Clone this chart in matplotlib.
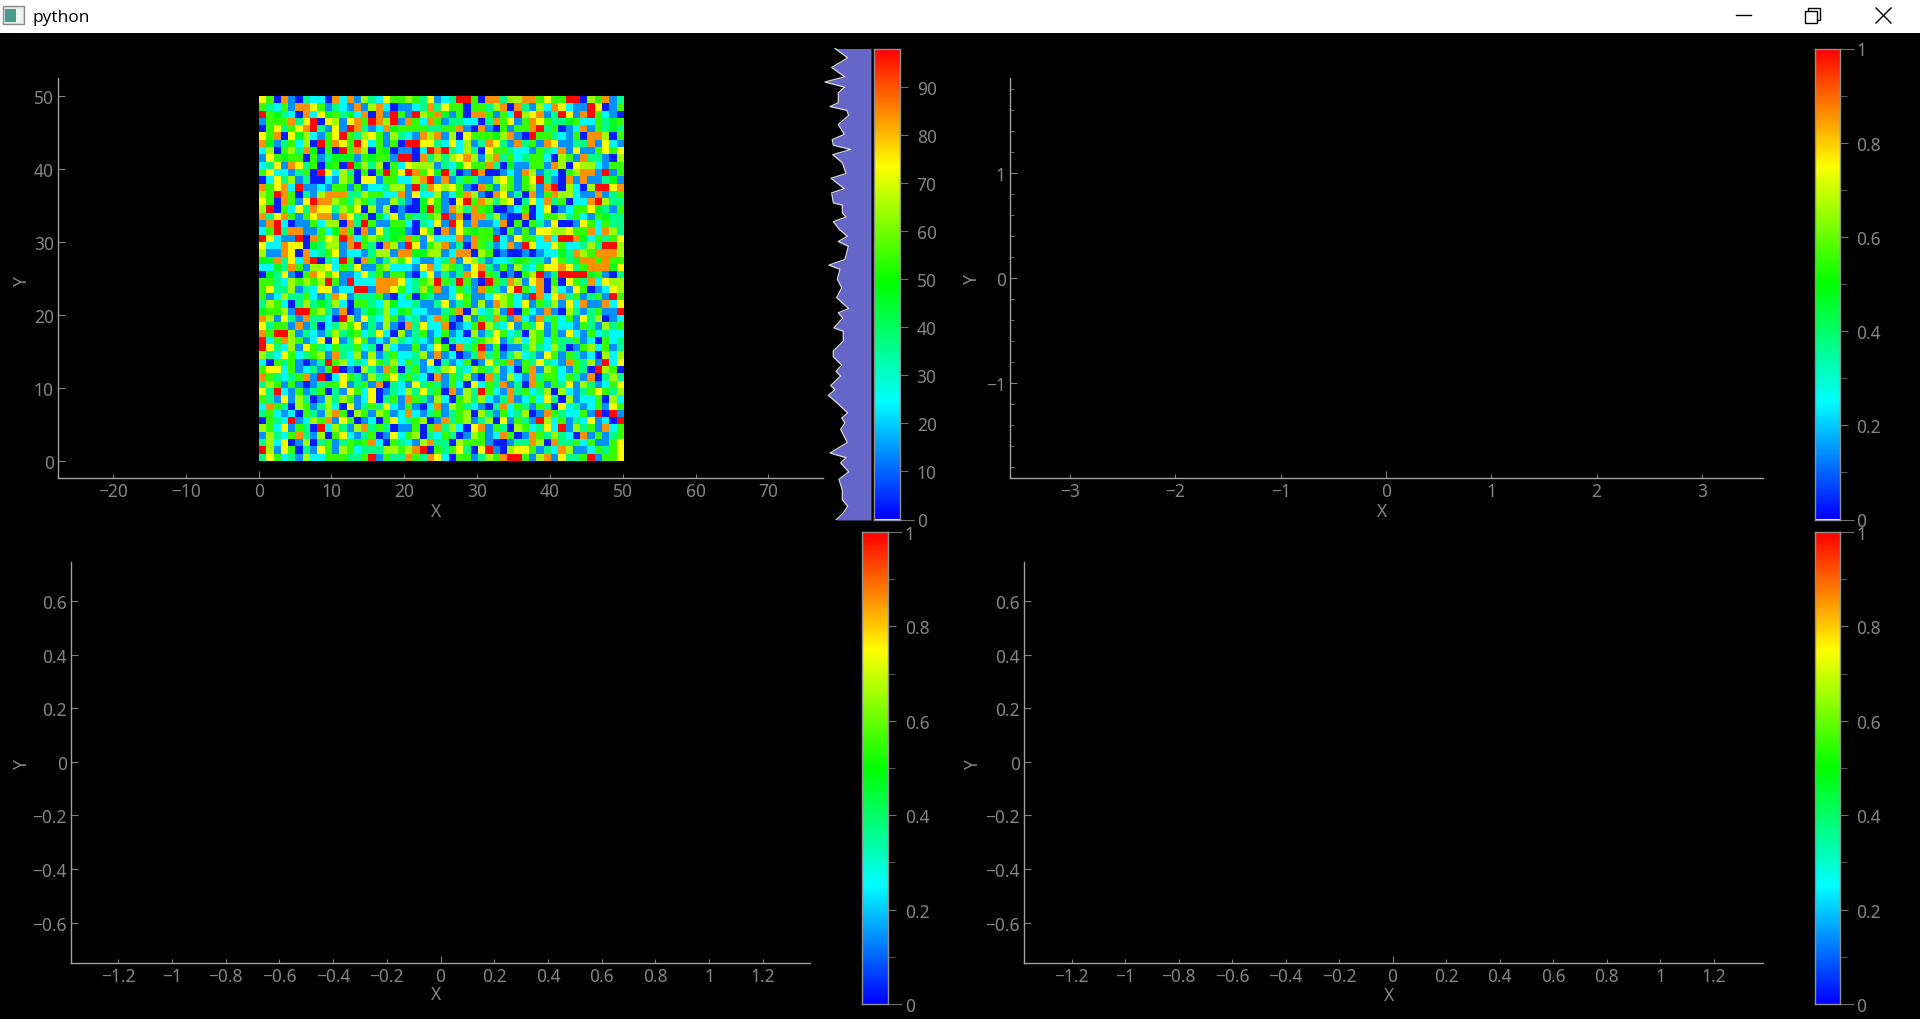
import numpy as np
import matplotlib
matplotlib.use("Agg")
import matplotlib.pyplot as plt
from matplotlib.colors import LinearSegmentedColormap
from matplotlib.patches import Rectangle

W, H = 1920, 1020

# colour levels (digit in a row -> value on the colour bar)
level_values = [3, 14, 24, 36, 46, 54, 64, 73, 84, 97]

# 50 x 50 cells, top row first
heat_rows = [
    "7508103220 8281632755 6537123995 0883668857 5599065813",
    "5325188751 3218168201 1238375505 5368083162 8721197015",
    "9543208274 5342808195 1965841508 8515296781 3971895210",
    "1555837907 6178598691 8528513322 0385715875 3345225345",
    "0573578931 7198312845 5553355810 8105155893 5012815343",
    "7580746215 7953675163 2186816075 5546810955 3215088605",
    "8413526095 8759725150 9977327261 3873183518 7113381721",
    "2605638405 0958605401 1029893263 0755322153 2817115757",
    "1754550513 4441545519 9083636786 1683523552 0651833106",
    "2371873504 5094636052 7666132475 5830411551 8607662155",
    "5722135097 2630505957 9857493019 8001218613 2056881915",
    "0273613002 1650771552 2689181353 1167515793 1081811341",
    "8578291121 5515122366 1938767510 8516515618 9062069978",
    "6598503168 8833655228 1722612586 1087130815 8662118135",
    "7508517988 6536531163 1047510795 8636703728 3502289633",
    "6905273877 3657061601 0049518638 5400125027 0125574315",
    "8378515788 1873504271 5335691808 8361008025 5635215433",
    "1892011526 6083951155 2032719718 1128050531 7001752533",
    "2593881152 4850817344 1075081754 5510515177 6675582863",
    "9721190857 6982565345 8517222818 5592175528 2998425357",
    "7228770436 6189530861 9715681308 5312819722 7522363996",
    "6118708235 7122136618 8446612880 6501001012 2438658886",
    "4483728903 2950851365 7211238176 3122345331 7534885855",
    "2243851667 2537115622 2178265317 8315163257 7873588847",
    "0437105875 7112735155 1027131387 9530105691 3999945103",
    "5532656569 5192228887 2356953951 0953861780 5075382766",
    "5733613277 1229918875 2364812531 8531795280 6217501276",
    "5126335213 8713335102 5043112751 1276521982 7835135195",
    "3652036343 6205532642 2311371351 6186527153 6172811827",
    "4556199563 1801343624 5221135806 2361905218 1063135119",
    "8617318332 0961732651 2312851061 5385182183 5251736012",
    "7355181302 3657131610 8372280125 9632715371 5221531635",
    "8599613213 6345237206 1351251206 1375230651 5172152322",
    "9258651270 7137512163 2321503223 5671362652 5335120523",
    "9732617532 5335230621 1512750835 9150113632 6301562513",
    "6327523561 8326161352 2361812013 8351362317 5153120626",
    "2053510139 5623275362 5317031250 1735815373 2185361927",
    "5772512315 9010631850 3512367326 5361205816 5215309650",
    "8532358190 2753163573 5320815361 0831621835 5253180363",
    "3651510135 5713518032 1735315207 2538130851 5371631257",
    "7392151350 3175270132 6373508163 9521835236 0621357536",
    "5317163016 3651270351 8531620563 6213812527 3061225062",
    "2853065136 2071353721 5102816532 1038253153 0723125175",
    "3521205316 8506516512 8213513560 6315236018 5322519091",
    "0532912658 1750120572 3560183561 3607153196 2513271209",
    "6527153092 6316835301 1505836207 8153065237 2916351825",
    "1632583160 5721350172 5603253016 5128501853 6320815135",
    "3627016035 1354582053 2168330655 5100133860 8335251157",
    "9617503175 1652333665 6890535730 7910677513 2861125357",
    "3752316225 5533591533 8538720551 3658995168 1733591557",
]

# left outline of the side profile: position along the colour bar / width
profile_pos = [49.95, 48.96, 47.93, 46.95, 46.4, 45.85, 45.25, 44.2, 43.8, 43.4, 42.85, 41.9,
               40.85, 40.3, 39.7, 39.25, 38.7, 37.85, 36.7, 36.2, 35.1, 34.65, 33.6, 33.35,
               32.55, 32.1, 31.6, 30.8, 30.05, 29.5, 29.0, 27.6, 27.0, 26.55, 25.5, 24.6,
               23.55, 22.4, 21.95, 21.4, 20.35, 20.0, 18.95, 17.9, 17.3, 16.4, 15.75, 15.25,
               14.25, 13.8, 13.2, 12.6, 11.35, 10.8, 10.3, 9.6, 8.2, 7.1, 6.6, 6.05,
               5.1, 4.3, 3.2, 2.15, 1.45, 0.75, 0.0]
profile_width = [36, 23.3, 39.3, 26.3, 46, 26.3, 32.7, 32.7, 41, 24.3, 22.3, 32.7,
                 26.7, 38.7, 37.7, 20.3, 38.3, 28.7, 25, 40, 26.7, 39.3, 37.7, 28.7,
                 28.7, 25, 37.7, 31.7, 23.7, 32.7, 22.7, 26, 42, 31, 33.7, 29.3,
                 34.3, 22.3, 32.7, 28.3, 37, 27.7, 27.7, 37.7, 37.7, 29.3, 35, 30.3,
                 40.3, 36, 42.7, 36, 23.3, 29.3, 26, 30.3, 23.7, 41, 25, 30.3,
                 22.3, 32, 28.7, 28.7, 23.3, 27.7, 35]

p1_xticks = [-20, -10, 0, 10, 20, 30, 40, 50, 60, 70]
p1_yticks = [0, 10, 20, 30, 40, 50]
p2_xticks = [-3, -2, -1, 0, 1, 2, 3]
p2_yticks = [-1, 0, 1]
small_ticks = [-1.2, -1, -0.8, -0.6, -0.4, -0.2, 0, 0.2, 0.4, 0.6, 0.8, 1, 1.2]
small_yticks = [-0.6, -0.4, -0.2, 0, 0.2, 0.4, 0.6]
bar_big_ticks = [0, 10, 20, 30, 40, 50, 60, 70, 80, 90]
bar_ticks = [0, 0.2, 0.4, 0.6, 0.8, 1]
bar_minor = [0.1, 0.3, 0.5, 0.7, 0.9]

plt.rcParams["font.family"] = ["Noto Sans", "DejaVu Sans"]

LINE = "#a0a0a0"
TXT = "#858585"
cmap = LinearSegmentedColormap.from_list(
    "rainbow5", ["#0000ff", "#00ffff", "#00ff00", "#ffff00", "#ff0000"])

fig = plt.figure(figsize=(W / 100, H / 100), dpi=100, facecolor="black")


def ax_px(left, top, right, bottom):
    return fig.add_axes([left / W, 1 - bottom / H, (right - left) / W, (bottom - top) / H])


def fmt(v):
    s = f"{v:g}"
    return s.replace("-", "\u2212")


def make_panel(box, xlim, ylim, xticks, yticks, xlab, ylab, yminor=None):
    ax = ax_px(*box)
    ax.set_facecolor("black")
    ax.set_xlim(xlim)
    ax.set_ylim(ylim)
    for name in ["top", "right"]:
        ax.spines[name].set_visible(False)
    for name in ["left", "bottom"]:
        ax.spines[name].set_color(LINE)
        ax.spines[name].set_linewidth(1.0)
    ax.set_xticks(xticks, [fmt(v) for v in xticks])
    ax.set_yticks(yticks, [fmt(v) for v in yticks])
    ax.tick_params(direction="in", length=3, width=0.8, color="#808080",
                   labelcolor=TXT, labelsize=12.5, pad=3)
    ax.tick_params(axis="y", length=5, pad=3)
    if yminor is not None:
        ax.set_yticks(yminor, minor=True)
        ax.tick_params(axis="y", which="minor", direction="in", length=3, width=0.8, color="#606060")
    # the zero tick of the x axis is drawn longer
    for tick, v in zip(ax.xaxis.get_major_ticks(), xticks):
        if v == 0:
            tick.tick1line.set_markersize(5)
    fig.text(xlab[0] / W, 1 - xlab[1] / H, "X", color=TXT, fontsize=12.5, ha="center", va="center")
    fig.text(ylab[0] / W, 1 - ylab[1] / H, "Y", color=TXT, fontsize=12.5, ha="center", va="center",
             rotation=90)
    return ax


def make_bar(box, vmax, ticks, minor):
    ax = ax_px(*box)
    grad = np.linspace(1, 0, 512).reshape(-1, 1)
    ax.imshow(grad, cmap=cmap, vmin=0, vmax=1, aspect="auto", extent=(0, 1, 0, vmax))
    ax.set_xticks([])
    ax.set_ylim(0, vmax)
    ax.yaxis.tick_right()
    ax.set_yticks(ticks, [fmt(v) for v in ticks])
    ax.tick_params(axis="y", length=6, width=0.8, color="#707070", labelcolor=TXT,
                   labelsize=12.5, pad=6)
    if minor:
        ax.set_yticks(minor, minor=True)
        ax.tick_params(axis="y", which="minor", length=5, width=0.8, color="#505050")
    for tick, v in zip(ax.yaxis.get_major_ticks(), ticks):
        if v == 0 or v == 1:
            tick.tick2line.set_markersize(10)
            tick.tick2line.set_color(LINE)
    for sp in ax.spines.values():
        sp.set_color("#909090")
        sp.set_linewidth(1.0)
    return ax


# heat map panel
heat = np.array([[level_values[int(c)] for c in row.replace(" ", "")] for row in heat_rows])
ax1 = make_panel((58, 79, 823, 479), (-27.55, 77.5), (-2.4, 52.5), p1_xticks, p1_yticks,
                 (436, 512), (22, 282))
ax1.imshow(heat, cmap=cmap, vmin=0, vmax=98, extent=(0, 50, 0, 50), origin="upper",
           aspect="auto", interpolation="nearest", zorder=2)
ax1.set_xlim(-27.55, 77.5)
ax1.set_ylim(-2.4, 52.5)

# side profile next to its colour bar
ax_side = ax_px(823, 49, 871, 521)
ax_side.set_axis_off()
ax_side.set_xlim(48, 0)
ax_side.set_ylim(0, 50)
ax_side.fill_betweenx(profile_pos, 0, profile_width, color="#6666c8", lw=0)
ax_side.plot(profile_width, profile_pos, color="#d8d8d8", lw=0.9)
make_bar((874, 49.5, 900, 520.5), 98, bar_big_ticks, None)

# three empty panels
make_panel((1010, 79, 1763, 479), (-3.57, 3.58), (-1.9, 1.9), p2_xticks, p2_yticks,
           (1382, 512), (972, 280), yminor=[-1.8, -1.6, -1.4, -1.2, -0.8, -0.6, -0.4, -0.2,
                                            0.2, 0.4, 0.6, 0.8, 1.2, 1.4, 1.6, 1.8])
make_bar((1814.5, 49.5, 1839.5, 520.5), 1, bar_ticks, bar_minor)

make_panel((71, 563, 810, 964), (-1.375, 1.375), (-0.75, 0.745), small_ticks, small_yticks,
           (436, 995), (22, 765))
make_bar((862, 533, 888, 1005), 1, bar_ticks, bar_minor)

make_panel((1024, 563, 1763, 964), (-1.378, 1.385), (-0.75, 0.745), small_ticks, small_yticks,
           (1389, 996), (973, 765))
make_bar((1814.5, 533, 1839.5, 1005), 1, bar_ticks, bar_minor)

# window title bar
top = fig.add_axes([0, 0, 1, 1], zorder=10)
top.set_axis_off()
top.patch.set_alpha(0)
top.set_xlim(0, W)
top.set_ylim(H, 0)
top.add_patch(Rectangle((0, 0), W, 34, color="white", lw=0))
top.add_patch(Rectangle((3, 7), 21, 18, fc="#e8e8e8", ec="#8a8a8a", lw=1))
top.add_patch(Rectangle((5, 10), 11, 13, fc="#4a9a90", lw=0))
top.add_patch(Rectangle((16, 10), 6, 13, fc="#f2f2f2", lw=0))
top.text(32, 17.5, "python", family=["Open Sans", "DejaVu Sans"], fontsize=12.5,
         color="black", va="center", ha="left")
top.plot([1736, 1751], [16, 16], color="black", lw=1)
top.add_patch(Rectangle((1808, 9), 12, 12, fc="white", ec="black", lw=1))
top.add_patch(Rectangle((1805, 12), 12, 12, fc="white", ec="black", lw=1))
top.plot([1876, 1891], [9, 24], color="black", lw=1)
top.plot([1876, 1891], [24, 9], color="black", lw=1)

fig.savefig("out.png", dpi=100, facecolor="black")
